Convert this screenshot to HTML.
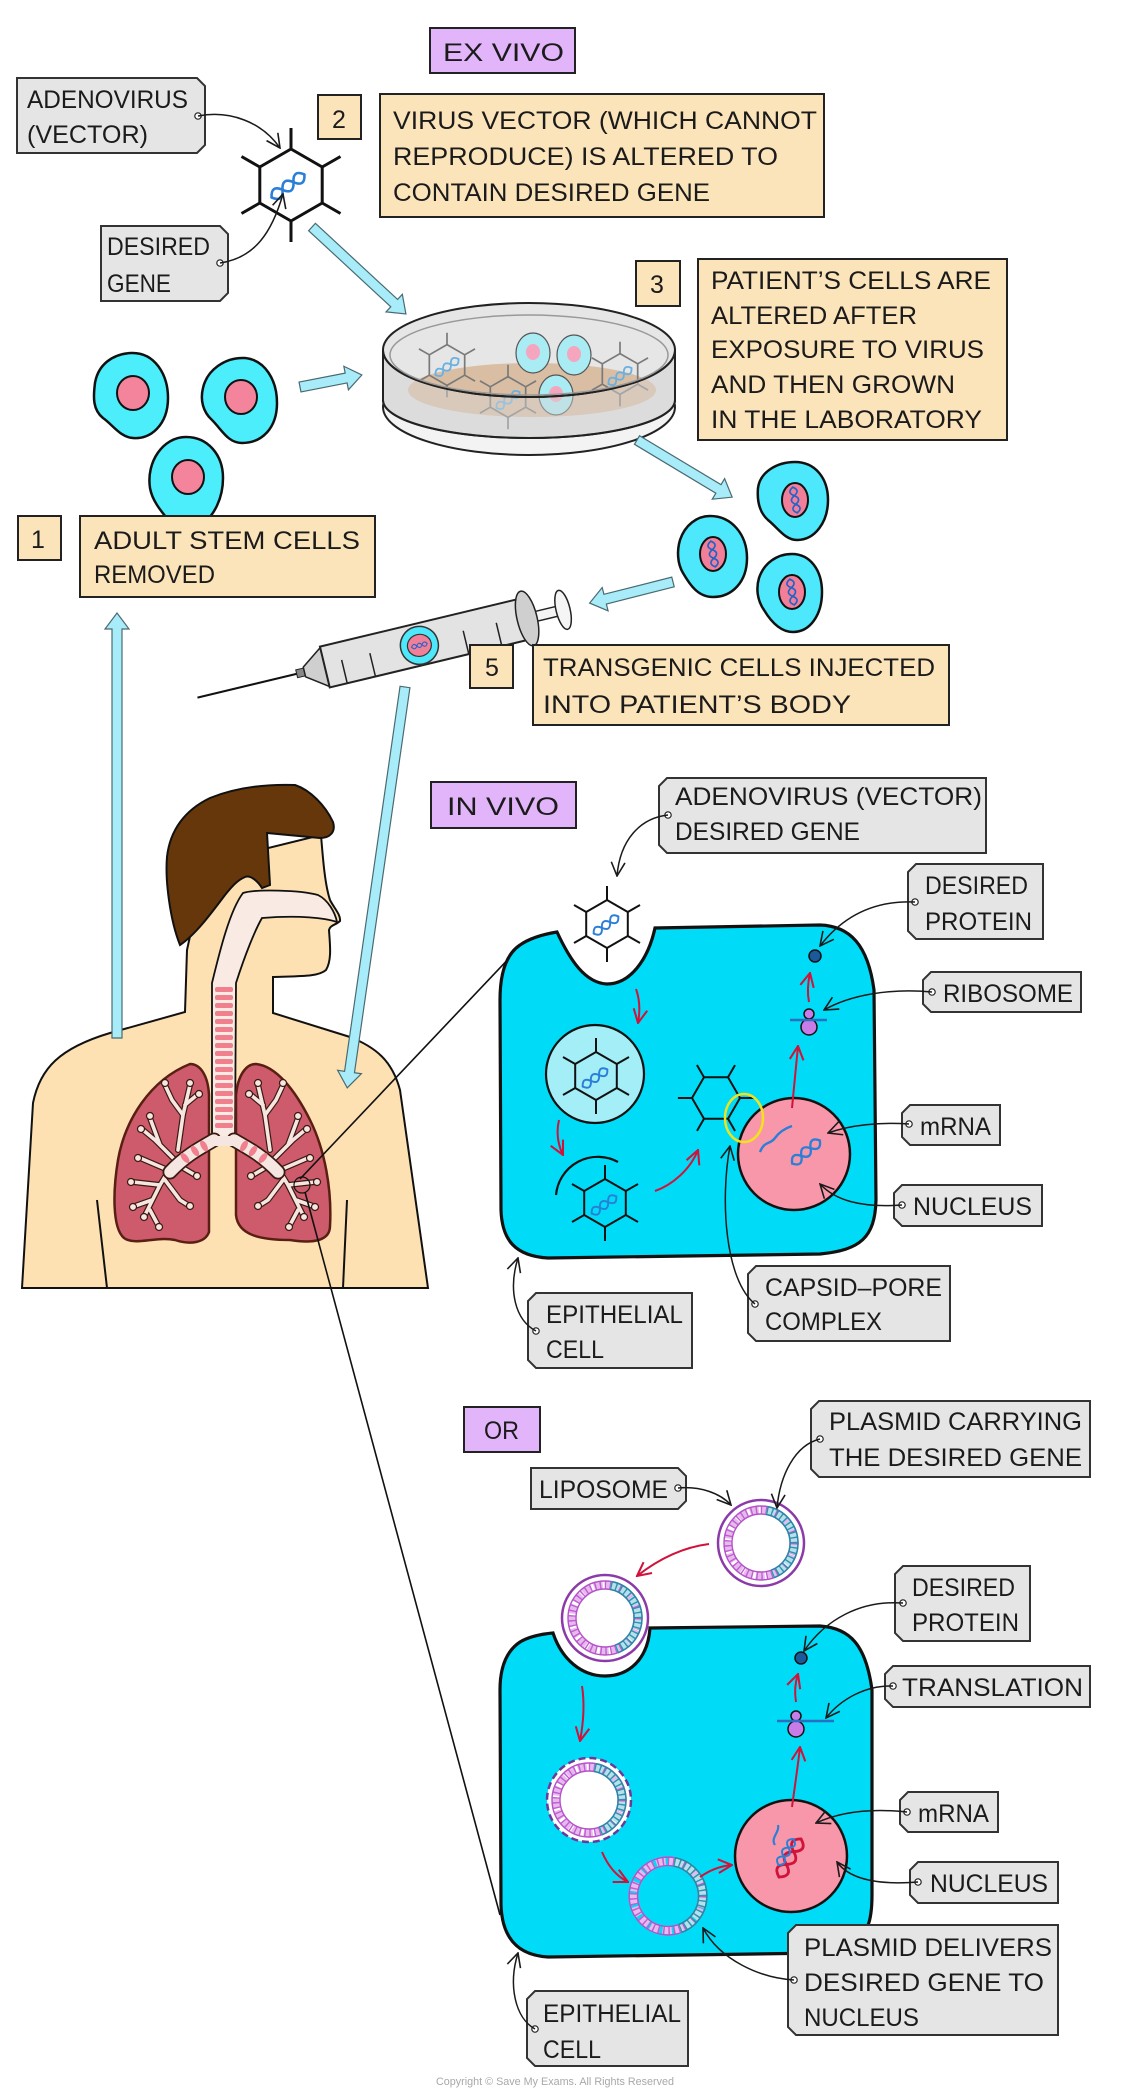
<!DOCTYPE html>
<html><head><meta charset="utf-8"><style>
html,body{margin:0;padding:0;background:#fff;}
svg{display:block;}
text{font-family:"Liberation Sans",sans-serif;font-size:25px;fill:#1b1b1b;}
.bx{fill:#fce4ba;stroke:#222;stroke-width:2;}
.pu{fill:#e2b4fa;stroke:#222;stroke-width:2;}
.tg{fill:#e5e5e5;stroke:#333;stroke-width:2;}
.hole{fill:#fff;stroke:#222;stroke-width:1.2;}
.con{fill:none;stroke:#1a1a1a;stroke-width:1.5;}
.red{fill:none;stroke:#d0133a;stroke-width:2;}
.ba{fill:#a9ecf9;stroke:#4a6a72;stroke-width:1.2;}
</style></head><body>
<svg width="1136" height="2092" viewBox="0 0 1136 2092" xmlns="http://www.w3.org/2000/svg">
<defs>
<marker id="ah" viewBox="0 0 14 14" refX="13" refY="7" markerWidth="16" markerHeight="16" markerUnits="userSpaceOnUse" orient="auto">
<path d="M1,1 L13,7 L1,13" fill="none" stroke="#1a1a1a" stroke-width="1.4"/></marker>
<marker id="ar" viewBox="0 0 14 14" refX="13" refY="7" markerWidth="16" markerHeight="16" markerUnits="userSpaceOnUse" orient="auto">
<path d="M1,1 L13,7 L1,13" fill="none" stroke="#d0133a" stroke-width="1.8"/></marker>
<g id="dna" fill="none" stroke-width="2.6" stroke-linecap="round">
<path d="M-20,0 Q-13.3,-11 -6.7,0 T6.7,0 T20,0"/>
<path d="M-20,0 Q-13.3,11 -6.7,0 T6.7,0 T20,0"/>
</g>
<g id="virus" fill="none" stroke-width="2" stroke-linejoin="round">
<polygon points="0,-24 20.8,-12 20.8,12 0,24 -20.8,12 -20.8,-12"/>
<path d="M0,-24 L0,-38 M20.8,-12 L33,-19 M20.8,12 L33,19 M0,24 L0,38 M-20.8,12 L-33,19 M-20.8,-12 L-33,-19"/>
</g>
<g id="plasmid" fill="none">
<circle r="33" stroke="#e7b9ee" stroke-width="9" stroke-dasharray="9 3"/>
<circle r="33" stroke="#c05ed2" stroke-width="7" stroke-dasharray="1.4 3.6"/>
<circle r="37" stroke="#b452c8" stroke-width="1.4"/>
<circle r="29" stroke="#b452c8" stroke-width="1.4"/>
<path d="M5.7,-32.5 A33,33 0 0 1 11.3,31" stroke="#b8e0ea" stroke-width="9" stroke-dasharray="9 3"/>
<path d="M5.7,-32.5 A33,33 0 0 1 11.3,31" stroke="#2f93b0" stroke-width="7" stroke-dasharray="1.4 3.6"/>
<path d="M6.4,-36.4 A37,37 0 0 1 12.7,34.8" stroke="#2a86a6" stroke-width="1.5"/>
<path d="M5,-28.6 A29,29 0 0 1 9.9,27.3" stroke="#2a86a6" stroke-width="1.5"/>
</g>
</defs>

<!-- ===== EX VIVO ===== -->
<rect class="pu" x="430" y="28" width="145" height="45"/>
<text x="443" y="61" textLength="121" lengthAdjust="spacingAndGlyphs">EX VIVO</text>

<polygon class="tg" points="17,78 197,78 205,86 205,145 197,153 17,153"/>
<circle class="hole" cx="198" cy="116" r="3.2"/>
<text x="27" y="108" textLength="161" lengthAdjust="spacingAndGlyphs">ADENOVIRUS</text>
<text x="27" y="143" textLength="121" lengthAdjust="spacingAndGlyphs">(VECTOR)</text>

<rect class="bx" x="318" y="95" width="43" height="44"/>
<text x="332" y="128" font-size="26">2</text>
<rect class="bx" x="380" y="94" width="444" height="123"/>
<text x="393" y="129" textLength="424" lengthAdjust="spacingAndGlyphs">VIRUS  VECTOR (WHICH CANNOT</text>
<text x="393" y="165" textLength="385" lengthAdjust="spacingAndGlyphs">REPRODUCE)  IS  ALTERED  TO</text>
<text x="393" y="201" textLength="317" lengthAdjust="spacingAndGlyphs">CONTAIN  DESIRED  GENE</text>

<use href="#virus" transform="translate(291,185) scale(1.5)" stroke="#111"/>
<use href="#dna" transform="translate(288,186) rotate(-35) scale(1.0)" stroke="#2a7fd6"/>

<polygon class="tg" points="101,226 220,226 228,234 228,293 220,301 101,301"/>
<circle class="hole" cx="220" cy="263" r="3.2"/>
<text x="107" y="255" textLength="103" lengthAdjust="spacingAndGlyphs">DESIRED</text>
<text x="107" y="292" textLength="64" lengthAdjust="spacingAndGlyphs">GENE</text>

<path class="con" d="M198,116 C230,110 262,122 280,148" marker-end="url(#ah)"/>
<path class="con" d="M220,263 C255,258 272,232 283,194" marker-end="url(#ah)"/>

<rect class="bx" x="636" y="261" width="44" height="45"/>
<text x="650" y="293" font-size="26">3</text>
<rect class="bx" x="698" y="259" width="309" height="181"/>
<text x="711" y="289" textLength="280" lengthAdjust="spacingAndGlyphs">PATIENT’S  CELLS  ARE</text>
<text x="711" y="324" textLength="206" lengthAdjust="spacingAndGlyphs">ALTERED  AFTER</text>
<text x="711" y="358" textLength="273" lengthAdjust="spacingAndGlyphs">EXPOSURE  TO  VIRUS</text>
<text x="711" y="393" textLength="244" lengthAdjust="spacingAndGlyphs">AND  THEN  GROWN</text>
<text x="711" y="428" textLength="271" lengthAdjust="spacingAndGlyphs">IN  THE  LABORATORY</text>

<!-- petri dish -->
<ellipse cx="529" cy="407" rx="146" ry="48" fill="#f3f3f3" stroke="#222" stroke-width="2"/>
<path d="M383,350 L383,400 A146,38 0 0 0 675,400 L675,350 Z" fill="#e0e0e0" stroke="#222" stroke-width="2"/>
<ellipse cx="529" cy="350" rx="146" ry="47" fill="#e6e6e6" stroke="none"/>
<ellipse cx="532" cy="390" rx="124" ry="27" fill="#d9bea4"/>
<use href="#virus" transform="translate(447,365) scale(0.85)" stroke="#7a7a7a" stroke-width="1.3"/>
<use href="#virus" transform="translate(508,397) scale(0.85)" stroke="#7a7a7a" stroke-width="1.3"/>
<use href="#virus" transform="translate(620,374) scale(0.85)" stroke="#7a7a7a" stroke-width="1.3"/>
<use href="#dna" transform="translate(447,367) rotate(-35) scale(0.7)" stroke="#6ab0e0"/>
<use href="#dna" transform="translate(508,400) rotate(-35) scale(0.7)" stroke="#6ab0e0"/>
<use href="#dna" transform="translate(620,376) rotate(-35) scale(0.7)" stroke="#6ab0e0"/>
<ellipse cx="533" cy="353" rx="17" ry="20" fill="#a9ecf3" stroke="#555" stroke-width="1.2"/>
<ellipse cx="533" cy="352" rx="7" ry="8" fill="#f5a6be"/>
<ellipse cx="574" cy="355" rx="17" ry="20" fill="#a9ecf3" stroke="#555" stroke-width="1.2"/>
<ellipse cx="574" cy="354" rx="7" ry="8" fill="#f5a6be"/>
<ellipse cx="556" cy="395" rx="17" ry="20" fill="#a9ecf3" stroke="#555" stroke-width="1.2"/>
<ellipse cx="556" cy="394" rx="7" ry="8" fill="#f5a6be"/>
<path d="M383,350 L383,400 A146,38 0 0 0 675,400 L675,350 A146,47 0 0 1 383,350 Z" fill="rgba(215,215,215,0.45)" stroke="#222" stroke-width="2"/>
<ellipse cx="529" cy="350" rx="146" ry="47" fill="none" stroke="#222" stroke-width="2"/>
<ellipse cx="529" cy="355" rx="139" ry="40" fill="none" stroke="#999" stroke-width="1.5"/>

<!-- stem cells -->
<path d="M131,353 C155,352 168,375 168,398 C168,425 150,440 133,438 C120,437 113,425 103,418 C93,410 93,398 95,383 C98,365 112,354 131,353 Z" fill="#4deefc" stroke="#111" stroke-width="2.5"/>
<ellipse cx="133" cy="393" rx="16" ry="17" fill="#f4839c" stroke="#111" stroke-width="2"/>
<path d="M245,358 C265,360 277,380 277,403 C277,428 262,443 242,443 C228,443 222,430 212,420 C203,412 200,400 203,388 C207,370 225,357 245,358 Z" fill="#4deefc" stroke="#111" stroke-width="2.5"/>
<ellipse cx="241" cy="397" rx="16" ry="17" fill="#f4839c" stroke="#111" stroke-width="2"/>
<path d="M186,437 C208,437 223,455 223,478 C223,500 213,515 205,522 L170,522 C160,510 152,500 150,488 C146,462 163,437 186,437 Z" fill="#4deefc" stroke="#111" stroke-width="2.5"/>
<ellipse cx="188" cy="477" rx="16" ry="17" fill="#f4839c" stroke="#111" stroke-width="2"/>

<rect class="bx" x="18" y="516" width="43" height="44"/>
<text x="31" y="548" font-size="26">1</text>
<rect class="bx" x="80" y="516" width="295" height="81"/>
<text x="94" y="549" textLength="266" lengthAdjust="spacingAndGlyphs">ADULT  STEM  CELLS</text>
<text x="94" y="583" textLength="121" lengthAdjust="spacingAndGlyphs">REMOVED</text>

<!-- transgenic cells -->
<path d="M795,462 C815,462 828,478 828,500 C828,522 815,540 797,540 C785,540 778,528 768,520 C759,512 757,500 758,488 C760,472 777,462 795,462 Z" fill="#4de8fb" stroke="#111" stroke-width="2.5"/>
<ellipse cx="795" cy="500" rx="13" ry="17" fill="#f27f9a" stroke="#111" stroke-width="2"/>
<use href="#dna" transform="translate(795,500) rotate(80) scale(0.65)" stroke="#2064c8"/>
<path d="M710,516 C732,516 747,535 747,558 C747,582 732,597 713,597 C698,597 690,585 683,573 C677,563 677,550 680,540 C685,525 697,516 710,516 Z" fill="#4de8fb" stroke="#111" stroke-width="2.5"/>
<ellipse cx="713" cy="554" rx="13" ry="17" fill="#f27f9a" stroke="#111" stroke-width="2"/>
<use href="#dna" transform="translate(713,554) rotate(80) scale(0.65)" stroke="#2064c8"/>
<path d="M792,554 C810,554 822,570 822,592 C822,615 810,632 793,632 C780,632 770,620 764,610 C757,600 756,588 759,578 C764,563 777,554 792,554 Z" fill="#4de8fb" stroke="#111" stroke-width="2.5"/>
<ellipse cx="792" cy="592" rx="13" ry="17" fill="#f27f9a" stroke="#111" stroke-width="2"/>
<use href="#dna" transform="translate(792,592) rotate(80) scale(0.65)" stroke="#2064c8"/>

<!-- syringe -->
<g transform="translate(425,643) rotate(-13.5)">
<line x1="-130" y1="0" x2="-234" y2="0" stroke="#111" stroke-width="2"/>
<rect x="-132" y="-4" width="8" height="8" fill="#888" stroke="#222" stroke-width="1"/>
<polygon points="-103,-20 -124,-5 -124,5 -103,20" fill="#cfcfcf" stroke="#222" stroke-width="1.5"/>
<rect x="-103" y="-21" width="208" height="42" fill="#e3e3e3" stroke="#222" stroke-width="2"/>
<path d="M-85,21 L-85,-3 M-56,21 L-56,-3 M40,21 L40,-3 M74,21 L74,-3" stroke="#222" stroke-width="1.5"/>
<circle cx="-6" cy="1" r="19" fill="#4de8fb" stroke="#333" stroke-width="1.5"/>
<ellipse cx="-6" cy="1" rx="12" ry="11" fill="#f27f9a" stroke="#333" stroke-width="1.2"/>
<use href="#dna" transform="translate(-6,1) scale(0.4)" stroke="#2064c8"/>
<rect x="105" y="-5" width="36" height="10" fill="#f5f5f5" stroke="#222" stroke-width="1.5"/>
<ellipse cx="105" cy="0" rx="10" ry="28" fill="#cfcfcf" stroke="#222" stroke-width="1.5"/>
<ellipse cx="142" cy="0" rx="7" ry="20" fill="#f5f5f5" stroke="#222" stroke-width="1.5"/>
</g>

<rect class="bx" x="470" y="645" width="43" height="43"/>
<text x="485" y="676" font-size="26">5</text>
<rect class="bx" x="533" y="645" width="416" height="80"/>
<text x="543" y="676" textLength="392" lengthAdjust="spacingAndGlyphs">TRANSGENIC  CELLS  INJECTED</text>
<text x="543" y="713" textLength="308" lengthAdjust="spacingAndGlyphs">INTO  PATIENT’S  BODY</text>

<!-- ===== HUMAN ===== -->
<path d="M22,1288 L33,1103 C40,1068 60,1048 110,1033 L185,1012 L187,950 L200,890 L260,850 L321,835 C323,860 325,885 330,900 C334,908 341,915 340,921 C336,925 330,925 329,930 C330,945 332,960 326,970 C318,977 300,976 273,977 L273,1013 L350,1037 C375,1047 392,1060 400,1090 L428,1288 Z" fill="#fde1b3" stroke="#111" stroke-width="2"/>
<path d="M97,1200 L107,1288 M347,1200 L343,1288" stroke="#111" stroke-width="2" fill="none"/>
<path d="M180,945 C170,920 165,880 167,857 C170,830 185,810 210,798 C235,788 265,784 295,785 C310,790 325,805 333,822 C336,832 330,838 320,838 L267,833 L270,885 L262,888 C257,880 250,875 245,877 C238,880 233,885 225,895 C210,915 195,935 180,945 Z" fill="#67370c" stroke="#111" stroke-width="2"/>
<path d="M243,893 C255,889 300,890 318,895 C328,900 335,912 337,922 C325,918 300,915 262,918 C255,930 245,955 236,983 L235,1140 L212,1140 L212,983 C220,950 230,910 243,893 Z" fill="#f9ebe4" stroke="#111" stroke-width="1.8"/>
<g fill="#f0808e">
<rect x="215" y="987" width="18" height="5" rx="2"/><rect x="215" y="995" width="18" height="5" rx="2"/>
<rect x="215" y="1003" width="18" height="5" rx="2"/><rect x="215" y="1011" width="18" height="5" rx="2"/>
<rect x="215" y="1019" width="18" height="5" rx="2"/><rect x="215" y="1027" width="18" height="5" rx="2"/>
<rect x="215" y="1035" width="18" height="5" rx="2"/><rect x="215" y="1043" width="18" height="5" rx="2"/>
<rect x="215" y="1051" width="18" height="5" rx="2"/><rect x="215" y="1059" width="18" height="5" rx="2"/>
<rect x="215" y="1067" width="18" height="5" rx="2"/><rect x="215" y="1075" width="18" height="5" rx="2"/>
<rect x="215" y="1083" width="18" height="5" rx="2"/><rect x="215" y="1091" width="18" height="5" rx="2"/>
<rect x="215" y="1099" width="18" height="5" rx="2"/><rect x="215" y="1107" width="18" height="5" rx="2"/>
<rect x="215" y="1115" width="18" height="5" rx="2"/><rect x="215" y="1123" width="18" height="5" rx="2"/>
</g>
<path d="M190,1064 C200,1064 208,1075 209,1095 L209,1232 C205,1243 190,1245 175,1240 C155,1236 135,1246 124,1238 C112,1228 113,1190 118,1160 C125,1120 150,1080 190,1064 Z" fill="#cd5b6b" stroke="#5a1f14" stroke-width="2.5"/>
<path d="M256,1064 C246,1064 238,1075 236,1095 L236,1215 C238,1235 260,1240 290,1240 C315,1244 330,1240 330,1226 C332,1190 325,1150 310,1120 C295,1090 276,1066 256,1064 Z" fill="#cd5b6b" stroke="#5a1f14" stroke-width="2.5"/>
<g fill="none" stroke="#3a1a10" stroke-width="6" stroke-linecap="round" stroke-linejoin="round">
<path d="M175,1160 L160,1185 L145,1215 M178,1150 L183,1115 L190,1085 M183,1115 L172,1100 L165,1085 M185,1105 L197,1095 M175,1160 L155,1140 L143,1130 M160,1145 L150,1118 M168,1170 L140,1158 M160,1185 L133,1182 M152,1200 L135,1206 M150,1210 L158,1225 M165,1180 L180,1200 L188,1205 M178,1165 L195,1175"/>
<path d="M273,1160 L288,1185 L303,1215 M270,1150 L265,1115 L258,1085 M265,1115 L276,1100 L283,1085 M263,1105 L251,1095 M273,1160 L293,1140 L305,1130 M288,1145 L298,1118 M280,1170 L308,1158 M288,1185 L315,1182 M296,1200 L313,1206 M298,1210 L290,1225 M283,1180 L268,1200 L260,1205 M270,1165 L253,1175"/>
</g>
<g fill="none" stroke="#f6e6e2" stroke-width="3.6" stroke-linecap="round" stroke-linejoin="round">
<path d="M175,1160 L160,1185 L145,1215 M178,1150 L183,1115 L190,1085 M183,1115 L172,1100 L165,1085 M185,1105 L197,1095 M175,1160 L155,1140 L143,1130 M160,1145 L150,1118 M168,1170 L140,1158 M160,1185 L133,1182 M152,1200 L135,1206 M150,1210 L158,1225 M165,1180 L180,1200 L188,1205 M178,1165 L195,1175"/>
<path d="M273,1160 L288,1185 L303,1215 M270,1150 L265,1115 L258,1085 M265,1115 L276,1100 L283,1085 M263,1105 L251,1095 M273,1160 L293,1140 L305,1130 M288,1145 L298,1118 M280,1170 L308,1158 M288,1185 L315,1182 M296,1200 L313,1206 M298,1210 L290,1225 M283,1180 L268,1200 L260,1205 M270,1165 L253,1175"/>
</g>
<path d="M214,1140 C200,1148 185,1156 170,1172 M234,1140 C248,1148 263,1156 278,1172" fill="none" stroke="#3a1a10" stroke-width="15" stroke-linecap="round"/>
<path d="M214,1140 C200,1148 185,1156 170,1172 M234,1140 C248,1148 263,1156 278,1172" fill="none" stroke="#f6e6e2" stroke-width="11.5" stroke-linecap="round"/>
<path d="M212,1136 L236,1136 L236,1146 L212,1146 Z" fill="#f6e6e2"/>
<g fill="#f0808e">
<ellipse cx="204" cy="1146" rx="3" ry="6" transform="rotate(-30 204 1146)"/>
<ellipse cx="195" cy="1151" rx="3" ry="6" transform="rotate(-35 195 1151)"/>
<ellipse cx="185" cy="1158" rx="3" ry="6" transform="rotate(-40 185 1158)"/>
<ellipse cx="244" cy="1146" rx="3" ry="6" transform="rotate(30 244 1146)"/>
<ellipse cx="253" cy="1151" rx="3" ry="6" transform="rotate(35 253 1151)"/>
<ellipse cx="263" cy="1158" rx="3" ry="6" transform="rotate(40 263 1158)"/>
</g>
<g fill="#f6e6e2" stroke="#3a1a10" stroke-width="1.2">
<circle cx="190" cy="1083" r="3.5"/><circle cx="165" cy="1083" r="3.5"/><circle cx="199" cy="1094" r="3.5"/>
<circle cx="141" cy="1129" r="3.5"/><circle cx="150" cy="1116" r="3.5"/><circle cx="138" cy="1158" r="3.5"/>
<circle cx="131" cy="1182" r="3.5"/><circle cx="133" cy="1207" r="3.5"/><circle cx="144" cy="1217" r="3.5"/>
<circle cx="159" cy="1227" r="3.5"/><circle cx="190" cy="1206" r="3.5"/><circle cx="197" cy="1176" r="3.5"/>
<circle cx="258" cy="1083" r="3.5"/><circle cx="283" cy="1083" r="3.5"/><circle cx="249" cy="1094" r="3.5"/>
<circle cx="307" cy="1129" r="3.5"/><circle cx="298" cy="1116" r="3.5"/><circle cx="310" cy="1158" r="3.5"/>
<circle cx="317" cy="1182" r="3.5"/><circle cx="315" cy="1207" r="3.5"/><circle cx="304" cy="1217" r="3.5"/>
<circle cx="289" cy="1227" r="3.5"/><circle cx="258" cy="1206" r="3.5"/><circle cx="251" cy="1176" r="3.5"/>
</g>
<circle cx="302" cy="1185" r="8" fill="none" stroke="#111" stroke-width="1.2"/>

<!-- blue block arrows -->
<polygon class="ba" transform="translate(312,227) rotate(42.8)" points="0,-5 112,-5 112,-12 128,0 112,12 112,5 0,5"/>
<polygon class="ba" transform="translate(300,387) rotate(-11)" points="0,-5 47,-5 47,-12 63,0 47,12 47,5 0,5"/>
<polygon class="ba" transform="translate(637,440) rotate(31)" points="0,-5 95,-5 95,-12 111,0 95,12 95,5 0,5"/>
<polygon class="ba" transform="translate(673,582) rotate(165.8)" points="0,-5 70,-5 70,-12 86,0 70,12 70,5 0,5"/>
<polygon class="ba" transform="translate(117,1038) rotate(-90)" points="0,-5 409,-5 409,-12 425,0 409,12 409,5 0,5"/>
<polygon class="ba" transform="translate(405,687) rotate(98.2)" points="0,-5 389,-5 389,-12 405,0 389,12 389,5 0,5"/>

<line x1="300" y1="1179" x2="514" y2="953" stroke="#111" stroke-width="1.6"/>
<line x1="305" y1="1192" x2="500" y2="1915" stroke="#111" stroke-width="1.6"/>

<!-- ===== IN VIVO ===== -->
<rect class="pu" x="431" y="782" width="145" height="46"/>
<text x="447" y="815" textLength="112" lengthAdjust="spacingAndGlyphs">IN VIVO</text>

<polygon class="tg" points="667,778 986,778 986,853 667,853 659,845 659,786"/>
<circle class="hole" cx="668" cy="815" r="3.2"/>
<text x="675" y="805" textLength="307" lengthAdjust="spacingAndGlyphs">ADENOVIRUS  (VECTOR)</text>
<text x="675" y="840" textLength="185" lengthAdjust="spacingAndGlyphs">DESIRED  GENE</text>

<path d="M500,1000 C500,975 505,955 520,945 C530,938 545,934 557,932 C570,960 585,983 607,984 C630,984 648,960 655,928 L820,925 C850,926 868,945 874,990 L876,1200 C875,1238 860,1250 820,1254 L548,1258 C515,1256 502,1240 501,1210 Z" fill="#00dcf7" stroke="#111" stroke-width="3.2"/>
<use href="#virus" transform="translate(607,924)" stroke="#111"/>
<use href="#dna" transform="translate(606,925) rotate(-35) scale(0.75)" stroke="#2a7fd6"/>
<circle cx="595" cy="1074" r="49" fill="#a3eef7" stroke="#111" stroke-width="2.2"/>
<use href="#virus" transform="translate(596,1076)" stroke="#111"/>
<use href="#dna" transform="translate(595,1078) rotate(-35) scale(0.75)" stroke="#2a7fd6"/>
<path d="M556,1195 A42,42 0 0 1 618,1162" fill="none" stroke="#111" stroke-width="2.2"/>
<use href="#virus" transform="translate(605,1203)" stroke="#111"/>
<use href="#dna" transform="translate(604,1205) rotate(-35) scale(0.75)" stroke="#2a7fd6"/>
<use href="#virus" transform="translate(716,1098) rotate(30)" stroke="#111"/>
<circle cx="794" cy="1154" r="56" fill="#f997aa" stroke="#111" stroke-width="2.5"/>
<path d="M760,1152 C765,1140 770,1145 775,1138 C780,1131 786,1128 792,1126" fill="none" stroke="#2a7fd6" stroke-width="2.4"/>
<use href="#dna" transform="translate(806,1152) rotate(-40) scale(0.9)" stroke="#2a7fd6"/>
<ellipse cx="744" cy="1118" rx="19" ry="24" fill="none" stroke="#f2e21e" stroke-width="2.5"/>
<path class="red" d="M636,989 C640,1000 640,1012 638,1023" marker-end="url(#ar)"/>
<path class="red" d="M559,1120 C556,1132 558,1145 563,1155" marker-end="url(#ar)"/>
<path class="red" d="M655,1191 C672,1185 690,1170 698,1150" marker-end="url(#ar)"/>
<path class="red" d="M792,1108 C794,1088 796,1066 798,1046" marker-end="url(#ar)"/>
<path class="red" d="M809,1002 C807,992 808,982 810,973" marker-end="url(#ar)"/>
<circle cx="809" cy="1027" r="8" fill="#c77ce8" stroke="#111" stroke-width="1.5"/>
<circle cx="809" cy="1014" r="5" fill="#c77ce8" stroke="#111" stroke-width="1.5"/>
<line x1="790" y1="1020" x2="827" y2="1020" stroke="#2a6fc0" stroke-width="2.5"/>
<circle cx="815" cy="956" r="6" fill="#1a5a9a" stroke="#111" stroke-width="1.5"/>

<polygon class="tg" points="916,864 1043,864 1043,939 916,939 908,931 908,872"/>
<circle class="hole" cx="915" cy="902" r="3.2"/>
<text x="925" y="894" textLength="103" lengthAdjust="spacingAndGlyphs">DESIRED</text>
<text x="925" y="930" textLength="107" lengthAdjust="spacingAndGlyphs">PROTEIN</text>
<polygon class="tg" points="931,972 1081,972 1081,1012 931,1012 923,1004 923,980"/>
<circle class="hole" cx="932" cy="992" r="3.2"/>
<text x="943" y="1002" textLength="130" lengthAdjust="spacingAndGlyphs">RIBOSOME</text>
<polygon class="tg" points="910,1105 1000,1105 1000,1145 910,1145 902,1137 902,1113"/>
<circle class="hole" cx="909" cy="1124" r="3.2"/>
<text x="920" y="1135" textLength="71" lengthAdjust="spacingAndGlyphs">mRNA</text>
<polygon class="tg" points="902,1185 1042,1185 1042,1226 902,1226 894,1218 894,1193"/>
<circle class="hole" cx="902" cy="1205" r="3.2"/>
<text x="913" y="1215" textLength="119" lengthAdjust="spacingAndGlyphs">NUCLEUS</text>
<polygon class="tg" points="756,1266 950,1266 950,1341 756,1341 748,1333 748,1274"/>
<circle class="hole" cx="755" cy="1304" r="3.2"/>
<text x="765" y="1296" textLength="177" lengthAdjust="spacingAndGlyphs">CAPSID–PORE</text>
<text x="765" y="1330" textLength="117" lengthAdjust="spacingAndGlyphs">COMPLEX</text>
<polygon class="tg" points="536,1293 692,1293 692,1368 536,1368 528,1360 528,1301"/>
<circle class="hole" cx="536" cy="1331" r="3.2"/>
<text x="546" y="1323" textLength="137" lengthAdjust="spacingAndGlyphs">EPITHELIAL</text>
<text x="546" y="1358" textLength="58" lengthAdjust="spacingAndGlyphs">CELL</text>

<path class="con" d="M668,815 C640,818 620,840 617,876" marker-end="url(#ah)"/>
<path class="con" d="M915,902 C870,900 840,920 820,946" marker-end="url(#ah)"/>
<path class="con" d="M932,992 C890,988 850,995 824,1010" marker-end="url(#ah)"/>
<path class="con" d="M909,1124 C880,1122 850,1125 828,1133" marker-end="url(#ah)"/>
<path class="con" d="M902,1205 C860,1208 835,1200 820,1184" marker-end="url(#ah)"/>
<path class="con" d="M755,1304 C725,1280 720,1200 730,1146" marker-end="url(#ah)"/>
<path class="con" d="M536,1331 C515,1320 508,1290 518,1258" marker-end="url(#ah)"/>

<!-- ===== OR ===== -->
<rect class="pu" x="464" y="1407" width="76" height="45"/>
<text x="484" y="1439" textLength="35" lengthAdjust="spacingAndGlyphs">OR</text>

<polygon class="tg" points="819,1401 1090,1401 1090,1477 819,1477 811,1469 811,1409"/>
<circle class="hole" cx="820" cy="1439" r="3.2"/>
<text x="829" y="1430" textLength="253" lengthAdjust="spacingAndGlyphs">PLASMID  CARRYING</text>
<text x="829" y="1466" textLength="253" lengthAdjust="spacingAndGlyphs">THE  DESIRED  GENE</text>
<polygon class="tg" points="531,1468 678,1468 686,1476 686,1501 678,1509 531,1509"/>
<circle class="hole" cx="678" cy="1488" r="3.2"/>
<text x="539" y="1498" textLength="129" lengthAdjust="spacingAndGlyphs">LIPOSOME</text>

<circle cx="761" cy="1543" r="43" fill="#fff" stroke="#8b3aa8" stroke-width="2.5"/>
<use href="#plasmid" transform="translate(761,1543)"/>

<path d="M500,1690 C500,1665 508,1650 520,1642 C530,1636 542,1634 553,1633 C562,1660 582,1676 605,1676 C630,1676 648,1658 650,1628 L820,1626 C850,1628 866,1645 872,1690 L872,1895 C872,1935 860,1950 820,1953 L548,1957 C515,1955 502,1935 501,1905 Z" fill="#00dcf7" stroke="#111" stroke-width="3.2"/>
<circle cx="605" cy="1618" r="43" fill="#fff" stroke="#8b3aa8" stroke-width="2.5"/>
<use href="#plasmid" transform="translate(605,1618)"/>
<circle cx="589" cy="1800" r="42" fill="#fff" stroke="#6a3a9a" stroke-width="2.5" stroke-dasharray="7 4"/>
<use href="#plasmid" transform="translate(589,1800)"/>
<use href="#plasmid" transform="translate(668,1896) scale(1.05)"/>
<circle cx="791" cy="1856" r="56" fill="#f997aa" stroke="#111" stroke-width="2.5"/>
<use href="#dna" transform="translate(790,1858) rotate(-60) scale(1.1)" stroke="#d0133a"/>
<use href="#dna" transform="translate(786,1852) rotate(-60) scale(0.75)" stroke="#2a7fd6"/>
<path d="M775,1845 C770,1838 780,1832 778,1825" fill="none" stroke="#2a7fd6" stroke-width="2.2"/>
<circle cx="796" cy="1729" r="8" fill="#c77ce8" stroke="#111" stroke-width="1.5"/>
<circle cx="796" cy="1716" r="5" fill="#c77ce8" stroke="#111" stroke-width="1.5"/>
<line x1="777" y1="1721" x2="834" y2="1721" stroke="#2a6fc0" stroke-width="2.5"/>
<circle cx="801" cy="1658" r="6" fill="#1a5a9a" stroke="#111" stroke-width="1.5"/>

<path class="red" d="M709,1544 C685,1547 660,1558 637,1576" marker-end="url(#ar)"/>
<path class="red" d="M582,1686 C585,1705 583,1725 580,1741" marker-end="url(#ar)"/>
<path class="red" d="M602,1852 C608,1866 616,1876 628,1882" marker-end="url(#ar)"/>
<path class="red" d="M700,1877 C710,1870 720,1866 732,1865" marker-end="url(#ar)"/>
<path class="red" d="M792,1807 C795,1785 798,1765 800,1747" marker-end="url(#ar)"/>
<path class="red" d="M796,1702 C794,1690 796,1680 798,1674" marker-end="url(#ar)"/>

<polygon class="tg" points="903,1566 1030,1566 1030,1641 903,1641 895,1633 895,1574"/>
<circle class="hole" cx="903" cy="1603" r="3.2"/>
<text x="912" y="1596" textLength="103" lengthAdjust="spacingAndGlyphs">DESIRED</text>
<text x="912" y="1631" textLength="107" lengthAdjust="spacingAndGlyphs">PROTEIN</text>
<polygon class="tg" points="893,1666 1090,1666 1090,1707 893,1707 885,1699 885,1674"/>
<circle class="hole" cx="893" cy="1686" r="3.2"/>
<text x="902" y="1696" textLength="181" lengthAdjust="spacingAndGlyphs">TRANSLATION</text>
<polygon class="tg" points="908,1792 998,1792 998,1832 908,1832 900,1824 900,1800"/>
<circle class="hole" cx="907" cy="1812" r="3.2"/>
<text x="918" y="1822" textLength="71" lengthAdjust="spacingAndGlyphs">mRNA</text>
<polygon class="tg" points="918,1862 1058,1862 1058,1903 918,1903 910,1895 910,1870"/>
<circle class="hole" cx="918" cy="1882" r="3.2"/>
<text x="930" y="1892" textLength="118" lengthAdjust="spacingAndGlyphs">NUCLEUS</text>
<polygon class="tg" points="796,1925 1058,1925 1058,2035 796,2035 788,2027 788,1933"/>
<circle class="hole" cx="794" cy="1980" r="3.2"/>
<text x="804" y="1956" textLength="248" lengthAdjust="spacingAndGlyphs">PLASMID  DELIVERS</text>
<text x="804" y="1991" textLength="240" lengthAdjust="spacingAndGlyphs">DESIRED  GENE  TO</text>
<text x="804" y="2026" textLength="115" lengthAdjust="spacingAndGlyphs">NUCLEUS</text>
<polygon class="tg" points="535,1991 688,1991 688,2066 535,2066 527,2058 527,1999"/>
<circle class="hole" cx="535" cy="2029" r="3.2"/>
<text x="543" y="2022" textLength="138" lengthAdjust="spacingAndGlyphs">EPITHELIAL</text>
<text x="543" y="2058" textLength="58" lengthAdjust="spacingAndGlyphs">CELL</text>

<path class="con" d="M820,1439 C795,1445 780,1475 777,1508" marker-end="url(#ah)"/>
<path class="con" d="M678,1488 C700,1486 720,1493 731,1505" marker-end="url(#ah)"/>
<path class="con" d="M903,1603 C860,1600 825,1620 804,1651" marker-end="url(#ah)"/>
<path class="con" d="M893,1686 C865,1685 840,1700 826,1718" marker-end="url(#ah)"/>
<path class="con" d="M907,1812 C870,1808 840,1812 816,1823" marker-end="url(#ah)"/>
<path class="con" d="M918,1882 C880,1885 850,1880 837,1862" marker-end="url(#ah)"/>
<path class="con" d="M794,1980 C760,1978 720,1960 703,1928" marker-end="url(#ah)"/>
<path class="con" d="M535,2029 C515,2018 508,1985 518,1953" marker-end="url(#ah)"/>

<text x="555" y="2085" text-anchor="middle" style="font-size:11px;fill:#a8a8a8" textLength="238" lengthAdjust="spacingAndGlyphs">Copyright © Save My Exams. All Rights Reserved</text>
</svg>
</body></html>
